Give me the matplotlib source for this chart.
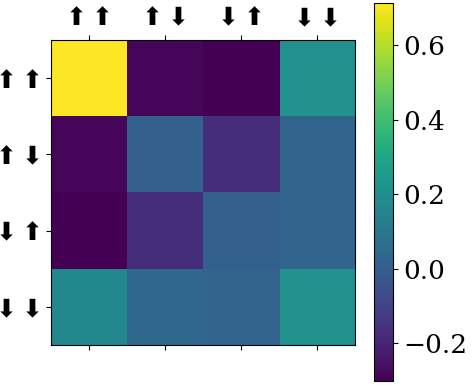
import numpy as np
import matplotlib
matplotlib.use("Agg")
import matplotlib.pyplot as plt

plt.rcParams['font.family'] = ['DejaVu Serif', 'DejaVu Sans']

# spin configurations
labels = ["⬆\u2009⬆", "⬆\u2009⬇", "⬇\u2009⬆", "⬇\u2009⬇"]

# correlation values
row_uu = [0.713, -0.29, -0.302, 0.21]
row_ud = [-0.29, 0.01, -0.17, 0.03]
row_du = [-0.30, -0.17, 0.01, 0.03]
row_dd = [0.17, 0.04, 0.03, 0.21]
matrix = np.array([row_uu, row_ud, row_du, row_dd])

fig = plt.figure(figsize=(4.73, 3.85), dpi=100)
ax = fig.add_axes([0.108, 0.104, 0.643, 0.792])
cax = fig.add_axes([0.791, 0.0104, 0.040, 0.982])

im = ax.imshow(matrix, cmap="viridis", aspect="auto")
ax.set_xticks(range(len(labels)))
ax.set_yticks(range(len(labels)))
ax.set_xticklabels(labels, family="DejaVu Sans", fontsize=18)
ax.set_yticklabels(labels, family="DejaVu Sans", fontsize=18)
ax.tick_params(top=True, labeltop=True, bottom=True, labelbottom=False)
ax.tick_params(axis="y", pad=2)

cb = fig.colorbar(im, cax=cax)
cb.set_ticks([-0.2, 0.0, 0.2, 0.4, 0.6])
cb.ax.tick_params(labelsize=19)

fig.savefig("out.png", dpi=100)
